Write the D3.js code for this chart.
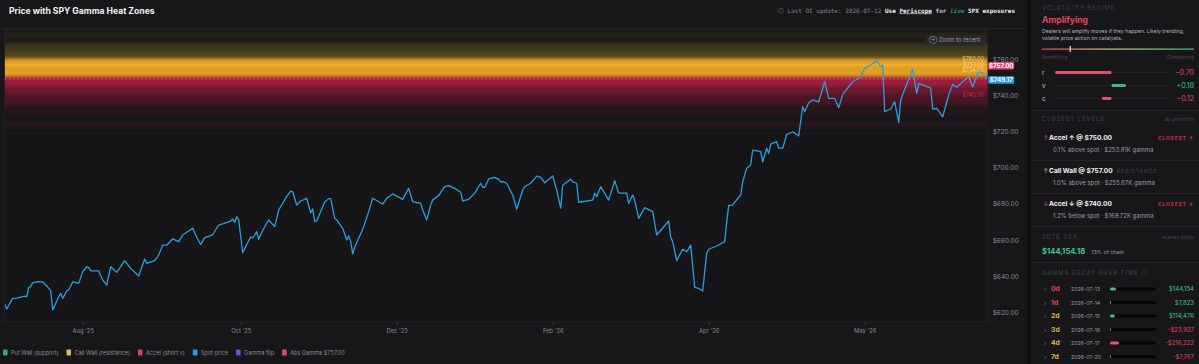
<!DOCTYPE html>
<html>
<head>
<meta charset="utf-8">
<script src="https://cdn.jsdelivr.net/npm/d3@7"></script>
<style>
  html, body { margin: 0; padding: 0; background: #17171a; }
  svg { display: block; font-family: Inter, "Liberation Sans", sans-serif; }
  .mono { font-family: "DejaVu Sans Mono", "Liberation Mono", monospace; }
</style>
</head>
<body>
<svg id="chart"></svg>
<script>
// ---- price series (bar index, close) ----
const priceIdx = [0,1,4,6,10,11,12,13,14,16,19,21,23,24,27,28,29,31,32,34,37,39,41,42,43,47,49,51,53,56,60,63,67,70,71,75,77,79,81,84,87,89,94,96,98,100,104,107,109,113,114,115,116,117,119,123,124,126,127,128,131,132,135,137,141,143,144,146,148,150,151,153,154,155,156,160,162,163,165,166,169,171,172,173,174,175,179,182,184,187,189,191,194,199,202,204,208,209,211,213,214,217,220,222,225,228,229,232,235,238,239,240,242,245,247,248,249,251,254,256,259,260,263,266,268,270,274,276,278,279,283,284,286,287,294,295,296,298,300,302,305,307,311,312,314,315,317,320,324,326,332,333,334,336,339,341,343,345,347,349,351,352,356,360,361,362,364,368,369,371,373,374,378,379,381,382,383,386,387,389,391,394,397,399,400,402,404,407,410,412,415,417,419,422,424,427,428,430,433,436,438,439,440,443,445,447,448,450,454,456,457,463,464,466,469,472,474,476,479,482,484,487,489,491];
const priceClose = [624.4,621.8,627.7,627.9,629.0,628.6,633.8,634.2,636.4,636.9,636.8,634.6,632.0,621.3,628.6,630.5,627.7,631.8,632.3,636.8,636.0,642.5,645.2,644.9,643.0,642.9,637.9,635.1,645.2,642.1,648.6,644.3,640.1,649.5,647.1,648.6,651.7,657.2,657.2,660.6,659.1,662.8,666.5,661.5,657.6,661.3,662.9,668.3,668.9,670.5,671.6,669.8,672.9,671.1,653.0,661.8,661.1,664.6,660.4,663.2,669.3,671.1,667.4,676.6,684.0,687.1,686.7,679.4,681.6,682.5,683.1,675.1,677.2,670.1,670.5,681.0,682.9,682.9,672.0,671.1,666.5,660.0,662.4,659.1,652.3,656.0,665.9,675.7,683.1,681.2,679.9,683.1,685.5,682.5,688.6,681.2,680.3,676.6,671.1,679.4,682.1,684.7,689.5,690.1,688.6,686.4,681.6,682.5,685.9,691.4,689.2,689.2,693.8,694.7,693.6,692.2,692.3,691.4,684.9,677.0,687.7,689.5,691.4,695.4,694.7,691.7,695.4,687.7,677.6,690.3,693.6,692.3,691.4,680.9,682.1,685.9,684.0,689.5,685.9,682.1,692.8,685.9,685.9,680.3,684.9,682.1,672.0,677.9,675.7,662.8,670.5,661.5,659.1,648.6,654.9,653.5,657.2,633.8,633.3,631.8,652.7,654.9,656.7,659.1,670.1,679.0,679.4,684.9,692.3,699.7,701.5,709.8,708.9,703.3,710.8,708.0,713.1,714.4,710.8,710.8,718.5,719.9,717.6,733.8,731.0,736.0,737.5,736.5,747.6,738.4,738.4,733.2,740.6,744.8,747.6,749.5,750.4,755.0,756.9,759.2,755.9,756.9,731.0,732.5,736.5,725.1,737.5,743.4,754.5,741.2,746.7,744.0,732.5,732.9,728.2,740.3,746.2,744.5,747.6,750.4,744.8,753.7,752.3,749.17];
const spotPrice = 749.17;
const absGammaStrike = 757;

const xTickIdx = [39, 118, 196, 274, 352, 430];
const xTickLabels = ["Aug '25", "Oct '25", "Dec '25", "Feb '26", "Apr '26", "May '26"];
const yTicks = [620, 640, 660, 680, 700, 720, 740, 760];

// ---- gamma heat by strike ($K, + call side, - accel side) ----
const heatStrikes = [775,774,773,772,771,770,769,768,767,766,765,764,763,762,761,760,759,758,757,756,755,754,753,752,751,750,749,748,747,746,745,744,743,742,741,740,739,738,737,736,735,734,733,732,731,730,729,728,727,726,725,724,723,722];
const heatGamma = [29,53,61,53,39,44,68,94,99,105,110,121,128,137,155,230,250,252,256,254,252,250,250,248,240,-254,-228,-222,-218,-212,-196,-170,-160,-165,-150,-140,-118,-125,-112,-118,-100,-70,-64,-60,-55,-45,-34,-25,-22,-40,-66,-68,-50,-20];
const zoneLabels = [760, 757, 754];
const accelDown = 740;

// ---- side panel data ----
const regimeScore = -0.63;
const regimeFactors = ["r", "v", "c"];
const regimeValues = [-0.70, 0.18, -0.12];
const levelArrows = ["↑", "↑", "↓"];
const levelTitles = ["Accel ↑ @ $750.00", "Call Wall @ $757.00", "Accel ↓ @ $740.00"];
const levelTags = ["CLOSEST ↑", "RESISTANCE", "CLOSEST ↓"];
const levelSubs = ["0.1% above spot · $253.81K gamma", "1.0% above spot · $255.87K gamma", "1.2% below spot · $169.72K gamma"];
const zeroDteGex = "$144,154.18";
const zeroDteShare = "13% of chain";
const decayLabels = ["0d", "1d", "2d", "3d", "4d", "7d"];
const decayDates = ["2026-07-13", "2026-07-14", "2026-07-15", "2026-07-16", "2026-07-17", "2026-07-20"];
const decayValues = [144154, 7823, 114476, -23927, -216222, -7767];
const chainTotal = 1109000;

const legendLabels = ["Put Wall (support)", "Call Wall (resistance)", "Accel (short γ)", "Spot price", "Gamma flip", "Abs Gamma $757.00"];
const legendColors = ["#3aa57a", "#d8bd62", "#d9455a", "#2b9ee0", "#7a4fd0", "#e0457f"];

// ---- layout ----
const W = 1199, H = 364;
const svg = d3.select('#chart').attr('width', W).attr('height', H);
svg.append('rect').attr('width', W).attr('height', H).attr('fill', '#17171a');

const plot = { left: 4.7, right: 987.7, top: 30, bottom: 321.7 };
const x = d3.scaleLinear().domain([0, 491]).range([plot.left, 986.7]);
const y = d3.scaleLinear().domain([620, 760]).range([312.3, 59.3]);

// header
svg.append('line').attr('x1', 0).attr('x2', 1028).attr('y1', 28.5).attr('y2', 28.5).attr('stroke', '#232327');
svg.append('text').attr('x', 9).attr('y', 13.5).attr('fill', '#f2f2f2')
  .attr('font-size', 8.6).attr('font-weight', 700).text('Price with SPY Gamma Heat Zones');

const hdr = svg.append('text').attr('class', 'mono').attr('x', 1015).attr('y', 12.5)
  .attr('text-anchor', 'end').attr('font-size', 6);
hdr.append('tspan').attr('fill', '#85858c').text('ⓘ Last OI update: 2026-07-12  ');
hdr.append('tspan').attr('fill', '#f0f0f0').attr('font-weight', 700).text('Use ');
hdr.append('tspan').attr('fill', '#f0f0f0').attr('font-weight', 700).attr('text-decoration', 'underline').text('Periscope');
hdr.append('tspan').attr('fill', '#c8c8cc').attr('font-weight', 700).text(' for ');
hdr.append('tspan').attr('fill', '#3ec0a0').attr('font-style', 'italic').text('live');
hdr.append('tspan').attr('fill', '#f0f0f0').attr('font-weight', 700).text(' SPX exposures');

// panel divider
svg.append('rect').attr('x', 1027).attr('y', 0).attr('width', 4).attr('height', H).attr('fill', '#0e0e10');

// plot frame
svg.append('rect').attr('x', plot.left).attr('y', plot.top)
  .attr('width', plot.right - plot.left).attr('height', plot.bottom - plot.top)
  .attr('fill', '#161618').attr('stroke', '#26262a').attr('stroke-width', 0.8);

const defs = svg.append('defs');
defs.append('clipPath').attr('id', 'plotClip').append('rect')
  .attr('x', plot.left).attr('y', plot.top).attr('width', plot.right - plot.left).attr('height', plot.bottom - plot.top);
const blur = defs.append('filter').attr('id', 'soft').attr('x', '-0.02').attr('y', '-0.3').attr('width', '1.04').attr('height', '1.6');
blur.append('feGaussianBlur').attr('stdDeviation', '0 0.9');

// heat zones
const gMax = d3.max(heatGamma, d => Math.abs(d));
const callColor = d3.interpolateRgbBasis(['#161618', '#4e4620', '#8a6a22', '#f0a822']);
const accelColor = d3.interpolateRgb('#161618', '#c41e46');
const heatG = svg.append('g').attr('clip-path', 'url(#plotClip)').append('g').attr('filter', 'url(#soft)');
heatG.selectAll('rect').data(heatStrikes).join('rect')
  .attr('x', plot.left).attr('width', plot.right - plot.left)
  .attr('y', d => y(d + 0.5)).attr('height', d => y(d - 0.5) - y(d + 0.5) + 0.4)
  .attr('fill', (d, i) => {
    const g = heatGamma[i], t = Math.pow(Math.abs(g) / gMax, 1.6);
    return g >= 0 ? callColor(t) : accelColor(t);
  });

// price line
const pts = priceIdx.map((d, i) => [d, priceClose[i]]);
svg.append('path').datum(pts).attr('clip-path', 'url(#plotClip)')
  .attr('fill', 'none').attr('stroke', '#2a9fdc').attr('stroke-width', 1.3)
  .attr('stroke-linejoin', 'round')
  .attr('d', d3.line().x(d => x(d[0])).y(d => y(d[1])));

// reference lines
svg.append('line').attr('x1', plot.left).attr('x2', plot.right)
  .attr('y1', y(absGammaStrike)).attr('y2', y(absGammaStrike))
  .attr('stroke', '#f7d89a').attr('stroke-opacity', 0.55).attr('stroke-dasharray', '2,1.5').attr('stroke-width', 0.8);
svg.append('line').attr('x1', plot.left).attr('x2', plot.right)
  .attr('y1', y(spotPrice)).attr('y2', y(spotPrice))
  .attr('stroke', '#f2c0cc').attr('stroke-opacity', 0.55).attr('stroke-dasharray', '2,2').attr('stroke-width', 0.8);

// zone labels in plot
svg.append('g').selectAll('text').data(zoneLabels).join('text')
  .attr('x', 984).attr('y', d => y(d) + 2).attr('text-anchor', 'end')
  .attr('font-size', 5.5).attr('fill', '#f5dc8a').attr('fill-opacity', 0.9)
  .text(d => '$' + d.toFixed(2));
svg.append('text').attr('x', 984).attr('y', y(accelDown) + 2).attr('text-anchor', 'end')
  .attr('font-size', 5.5).attr('fill', '#c0303f').text('$' + accelDown.toFixed(2));

// zoom button
const zb = svg.append('g');
zb.append('rect').attr('x', 925).attr('y', 35).attr('width', 61).attr('height', 10.5).attr('rx', 2)
  .attr('fill', '#2a2a2c').attr('fill-opacity', 0.75);
zb.append('text').attr('x', 929).attr('y', 42.3).attr('font-size', 5.8).attr('fill', '#9a9aa0').text('⊕ Zoom to recent');

// y axis
const yAxis = d3.axisRight(y).tickValues(yTicks).tickFormat(d => '$' + d.toFixed(2)).tickSize(0).tickPadding(5);
const yG = svg.append('g').attr('transform', `translate(${plot.right},0)`).call(yAxis);
yG.select('.domain').remove();
yG.selectAll('text').attr('fill', '#8a8a90').attr('font-size', 6.5).attr('font-family', 'Inter, sans-serif');

// price badges
function badge(val, fill) {
  const g = svg.append('g').attr('transform', `translate(${plot.right + 0.5},${y(val) + 1})`);
  g.append('rect').attr('x', 0).attr('y', -3.6).attr('width', 26).attr('height', 7.4).attr('rx', 1).attr('fill', fill);
  g.append('text').attr('x', 13).attr('y', 2.2).attr('text-anchor', 'middle').attr('font-size', 6.2)
    .attr('font-weight', 700).attr('fill', '#fff').text('$' + val.toFixed(2));
}
badge(absGammaStrike, '#e0457f');
badge(spotPrice, '#1e9fe0');

// x axis
const xAxis = d3.axisBottom(x).tickValues(xTickIdx).tickFormat((d, i) => xTickLabels[i]).tickSize(3).tickPadding(4);
const xG = svg.append('g').attr('transform', `translate(0,${plot.bottom})`).call(xAxis);
xG.select('.domain').remove();
xG.selectAll('line').attr('stroke', '#3a3a3f');
xG.selectAll('text').attr('fill', '#8a8a90').attr('font-size', 5.8).attr('font-family', 'Inter, sans-serif');

// legend
const leg = svg.append('g').attr('transform', 'translate(3,353)');
let lx = 0;
legendLabels.forEach((lab, i) => {
  leg.append('rect').attr('x', lx).attr('y', -3.5).attr('width', 4.5).attr('height', 6).attr('rx', 0.8).attr('fill', legendColors[i]);
  const t = leg.append('text').attr('x', lx + 8).attr('y', 2).attr('font-size', 5.6).attr('fill', '#8a8a90').text(lab);
  lx += 8 + t.node().getComputedTextLength() + 8;
});

// ---- side panel ----
const px = 1042, pr = 1194;
const sp = svg.append('g');
function caption(txt, yy) {
  sp.append('text').attr('x', px).attr('y', yy).attr('font-size', 5.6).attr('letter-spacing', 1.1)
    .attr('fill', '#45454b').text(txt);
}
function note(txt, yy) {
  sp.append('text').attr('x', pr).attr('y', yy).attr('text-anchor', 'end').attr('font-size', 5)
    .attr('font-style', 'italic').attr('fill', '#45454b').text(txt);
}
function divider(yy) {
  sp.append('line').attr('x1', 1031).attr('x2', W).attr('y1', yy).attr('y2', yy).attr('stroke', '#26262a');
}

caption('VOLATILITY REGIME', 9.5);
sp.append('text').attr('x', px).attr('y', 23).attr('font-size', 8.6).attr('font-weight', 700).attr('fill', '#e8455a').text('Amplifying');
sp.append('text').attr('x', px).attr('y', 33).attr('font-size', 5.2).attr('fill', '#b4b4ba').text('Dealers will amplify moves if they happen. Likely trending,');
sp.append('text').attr('x', px).attr('y', 40).attr('font-size', 5.2).attr('fill', '#b4b4ba').text('volatile price action on catalysts.');

const grad = defs.append('linearGradient').attr('id', 'regGrad');
grad.append('stop').attr('offset', '0%').attr('stop-color', '#e04a5e');
grad.append('stop').attr('offset', '45%').attr('stop-color', '#d8c58a');
grad.append('stop').attr('offset', '100%').attr('stop-color', '#3ec08a');
sp.append('rect').attr('x', px).attr('y', 48.5).attr('width', pr - px).attr('height', 1.2).attr('fill', 'url(#regGrad)');
const regX = d3.scaleLinear().domain([-1, 1]).range([px, pr]);
sp.append('rect').attr('x', regX(regimeScore) - 0.5).attr('y', 46).attr('width', 1.2).attr('height', 6).attr('fill', '#e8e8e8');
sp.append('text').attr('x', px).attr('y', 59).attr('font-size', 5).attr('fill', '#45454b').text('Amplifying');
sp.append('text').attr('x', pr).attr('y', 59).attr('text-anchor', 'end').attr('font-size', 5).attr('fill', '#45454b').text('Dampening');

const facX = d3.scaleLinear().domain([-1, 1]).range([1031, 1192]);
regimeFactors.forEach((f, i) => {
  const yy = 72.5 + i * 13;
  sp.append('text').attr('x', px).attr('y', yy + 2).attr('font-size', 6.5).attr('fill', '#c8c8cc').text(f);
  sp.append('line').attr('x1', 1055).attr('x2', 1168).attr('y1', yy).attr('y2', yy).attr('stroke', '#2c2c30').attr('stroke-width', 0.6);
  const v = regimeValues[i];
  sp.append('rect').attr('x', Math.min(facX(0), facX(v))).attr('y', yy - 1.4)
    .attr('width', Math.abs(facX(v) - facX(0))).attr('height', 2.8).attr('rx', 1.3)
    .attr('fill', v < 0 ? '#e0506a' : '#3db88a');
  sp.append('text').attr('x', pr).attr('y', yy + 2.5).attr('text-anchor', 'end').attr('font-size', 7)
    .attr('fill', v < 0 ? '#e0455c' : '#3ec08a').text((v < 0 ? '−' : '+') + Math.abs(v).toFixed(2));
});

divider(110.5);
caption('CLOSEST LEVELS', 121);
note('by proximity', 121);

const arrowColors = ['#d9455a', '#e0bd5a', '#d9455a'];
levelTitles.forEach((t, i) => {
  const yy = 140 + i * 33;
  sp.append('text').attr('x', 1043).attr('y', yy).attr('font-size', 6.5).attr('fill', arrowColors[i]).text(levelArrows[i]);
  const tt = sp.append('text').attr('x', 1049).attr('y', yy).attr('font-size', 6.6).attr('font-weight', 700).attr('fill', '#f2f2f2').text(t);
  if (i === 1) {
    sp.append('text').attr('x', 1049 + tt.node().getComputedTextLength() + 4).attr('y', yy)
      .attr('font-size', 5).attr('letter-spacing', 1).attr('fill', '#45454b').text(levelTags[i]);
  } else {
    sp.append('text').attr('x', pr).attr('y', yy).attr('text-anchor', 'end').attr('font-size', 5)
      .attr('font-weight', 700).attr('letter-spacing', 0.8).attr('fill', '#c8304a').text(levelTags[i]);
  }
  sp.append('text').attr('x', 1053).attr('y', yy + 12).attr('font-size', 6).attr('fill', '#9c9ca2').text(levelSubs[i]);
  divider(yy + 20.5);
});

caption('0DTE GEX', 239);
note('expires today', 239);
const gx = sp.append('text').attr('x', px).attr('y', 253.5).attr('font-size', 7.6).attr('font-weight', 700).attr('fill', '#3ec58e').text(zeroDteGex);
sp.append('text').attr('x', px + gx.node().getComputedTextLength() + 6).attr('y', 253.5).attr('font-size', 5.4).attr('fill', '#9c9ca2').text(zeroDteShare);

divider(262.5);
caption('GAMMA DECAY OVER TIME ⓘ', 275);

const barW = d3.scaleLinear().domain([0, chainTotal]).range([0, 46]);
decayLabels.forEach((lab, i) => {
  const yy = 289 + i * 13.5;
  const v = decayValues[i];
  sp.append('text').attr('x', 1044).attr('y', yy + 2).attr('font-size', 6.5).attr('fill', '#66666c').text('›');
  sp.append('text').attr('x', 1051).attr('y', yy + 2.3).attr('font-size', 6.8).attr('font-weight', 700)
    .attr('fill', i < 2 ? '#e8455a' : '#e0b850').text(lab);
  sp.append('text').attr('x', 1071).attr('y', yy + 2).attr('font-size', 5.2).attr('fill', '#9c9ca2').text(decayDates[i]);
  sp.append('rect').attr('x', 1110).attr('y', yy - 1.5).attr('width', 46).attr('height', 3).attr('rx', 1.5).attr('fill', '#060607');
  sp.append('rect').attr('x', 1110).attr('y', yy - 1.5).attr('width', Math.max(1, barW(Math.abs(v)))).attr('height', 3).attr('rx', 1.5)
    .attr('fill', v >= 0 ? '#3ec58e' : '#e8557a');
  sp.append('text').attr('x', pr).attr('y', yy + 2).attr('text-anchor', 'end').attr('font-size', 6)
    .attr('fill', v >= 0 ? '#3ec58e' : '#e0455c')
    .text((v < 0 ? '-' : '') + '$' + d3.format(',')(Math.abs(v)));
});
</script>
</body>
</html>
